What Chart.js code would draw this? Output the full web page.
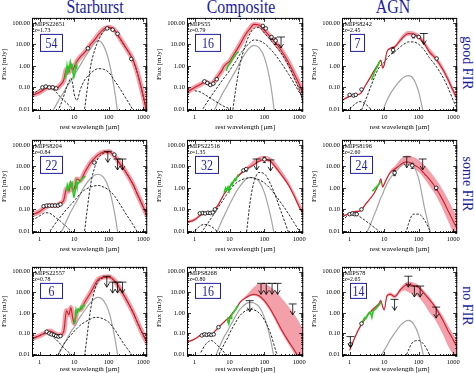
<!DOCTYPE html>
<html><head><meta charset="utf-8">
<script src="https://cdn.jsdelivr.net/npm/chart.js@4.4.1/dist/chart.umd.min.js"></script>
<style>
body{margin:0;width:474px;height:373px;background:#fff;position:relative;overflow:hidden;font-family:'Liberation Serif',serif}
canvas{position:absolute}
.t{position:absolute;color:#1c1c9c;font-size:18px;top:-3px;white-space:nowrap;transform:translateX(-50%) scaleX(0.88)}
.s{position:absolute;color:#1c1c9c;font-size:14px;white-space:nowrap;left:467px;transform:translate(-50%,-50%) rotate(90deg)}
</style></head><body>
<div class="t" style="left:95px">Starburst</div>
<div class="t" style="left:241px">Composite</div>
<div class="t" style="left:393px">AGN</div>
<div class="s" style="top:63px">good FIR</div>
<div class="s" style="top:184px">some FIR</div>
<div class="s" style="top:306px">no FIR</div>
<script>
const N = null;
// shared wavelength grid [µm]
const lam = [0.6,1,1.5,2,3,4,5,6,7,8,9,10,12,15,20,30,40,50,70,100,150,200,300,500,700,1000,1300];
const xTicks = [1,10,100,1000];
const yTicks = [0.01,0.1,1,10,100];
const names = ['MIPS22651','MIPS55','MIPS8242','MIPS8204','MIPS22516','MIPS8196','MIPS22557','MIPS8268','MIPS78'];
const zs = ['1.73','0.79','2.45','0.84','1.35','2.60','0.78','0.80','2.65'];
const counts = ['54','16','7','22','32','24','6','16','14'];

// Panel 1
const p1Total=[0.042,0.059,0.09,0.1,0.09,0.13,0.22,0.7,0.5,1.1,0.6,0.9,1.6,2.6,4.2,10,17,28,50,63,45,22,8,1.95,0.4,0.04,0.006];
const p1Stel=[0.045,0.08,0.11,0.1,0.06,0.035,0.025,0.019,0.015,0.012,0.01,0.008,0.005,N,N,N,N,N,N,N,N,N,N,N,N,N,N];
const p1Grey=[N,N,N,0.005,0.015,0.035,0.06,0.1,0.15,0.2,0.28,0.4,0.6,1.1,2.4,6.5,12,15,9,1.8,0.06,0.002,N,N,N,N,N];
const p1Dash=[N,N,N,N,0.005,0.015,0.04,0.1,0.18,0.27,0.15,0.05,0.025,0.08,0.22,0.45,0.65,0.75,0.7,0.5,0.2,0.1,0.035,0.009,0.003,N,N];
const p1Cold=[N,N,N,N,N,N,N,N,N,N,N,N,N,N,0.01,1.0,6,15,40,58,42,21,7.5,1.85,0.38,0.038,0.005];
const p1IrsLam=[5.3,5.8,6.2,6.6,7.0,7.7,8.2,8.6,9.2,9.8,10.5,11.3,11.8];
const p1Irs=[0.25,0.4,1.0,0.5,0.6,1.5,0.9,1.2,0.5,0.3,0.45,1.1,0.7];
const p1PtLam=[1.2,1.5,1.9,2.4,3.0,25,90,130,180,450];
const p1Pt=[0.1,0.11,0.1,0.1,0.09,6.5,55,48,31,2.1];
const p1PtErr=[0.01,0.01,0.01,0.01,0.01,1.2,8,7,5,0.4];
const p1UlLam=[]; const p1Ul=[];

// Panel 2
const p2Total=[0.06,0.1,0.14,0.18,0.14,0.24,0.4,0.6,0.96,1.2,1.4,1.6,2.6,4.6,10,32,59,85,80,45,22,13,5.5,1.4,0.47,0.14,0.047];
const p2Stel=[N,0.07,0.06,0.045,0.03,0.022,0.018,0.015,0.013,0.012,0.011,0.01,0.007,N,N,N,N,N,N,N,N,N,N,N,N,N,N];
const p2Grey=[N,N,N,N,0.005,0.012,0.025,0.045,0.07,0.1,0.14,0.19,0.32,0.6,1.5,4.5,7.5,9,7,2.5,0.15,0.005,N,N,N,N,N];
const p2Dash=[N,N,0.007,0.015,0.04,0.08,0.13,0.2,0.28,0.37,0.47,0.6,0.95,1.6,3.5,8,13,16,15,11,6,3.5,1.4,0.4,0.16,0.06,0.03];
const p2Cold=[N,N,N,N,N,N,N,N,N,N,N,N,0.006,0.08,1.2,12,35,55,62,34,16,9,4,1,0.3,0.08,0.02];
const p2IrsLam=[8,9,10,11,12,13,14,16,18];
const p2Irs=[0.6,1.0,1.2,1.6,2.0,2.6,2.8,3.9,4.6];
const p2PtLam=[1.9,2.3,2.8,3.4,4.3,90,110,160,210];
const p2Pt=[0.19,0.16,0.13,0.15,0.24,72,55,22,15];
const p2PtErr=[0.02,0.02,0.02,0.02,0.03,12,8,5,5];
const p2UlLam=[300]; const p2Ul=[22];

// Panel 3
const p3Total=[0.025,0.039,0.045,0.05,0.14,0.3,0.57,0.9,1.37,1.8,0.8,1.1,4.5,6.5,7.5,16,26,32,30,22,10,4.6,2.3,0.68,0.24,0.07,0.03];
const p3Hi=[0.028,0.043,0.05,0.055,0.155,0.33,0.63,1.0,1.5,2.0,0.9,1.25,5,7.3,9,22,36,42,40,30,14,7,3.3,1,0.35,0.1,0.04];
const p3Lo=[0.022,0.035,0.04,0.045,0.125,0.27,0.51,0.8,1.23,1.6,0.7,0.95,4,5.8,6.5,13,21,25,24,17,8,3.6,1.8,0.5,0.17,0.05,0.02];
const p3Stel=[N,0.01,0.018,0.022,0.016,0.01,0.006,N,N,N,N,N,N,N,N,N,N,N,N,N,N,N,N,N,N,N,N];
const p3Grey=[N,N,N,N,N,N,N,N,N,0.004,0.007,0.012,0.025,0.05,0.1,0.22,0.32,0.35,0.25,0.06,0.003,N,N,N,N,N,N];
const p3Dash=[N,N,N,0.006,0.03,0.1,0.25,0.5,0.8,1.1,1.2,1.5,2.2,3.3,4.5,8,11,13,13,10,5,2.5,1.1,0.3,0.1,0.025,0.01];
const p3Cold=null;
const p3IrsLam=[4.3,4.8,5.3,5.8,6.4,7.0,7.6];
const p3Irs=[0.22,0.35,0.55,0.7,0.95,1.3,1.7];
const p3PtLam=[1.0,1.3,1.5,2.2,18,70,100,330];
const p3Pt=[0.045,0.042,0.045,0.08,5.5,25,22,2.2];
const p3PtErr=[0.005,0.005,0.005,0.01,1.5,5,4,0.4];
const p3UlLam=[140]; const p3Ul=[32];

// Panel 4
const p4Total=[0.055,0.08,0.13,0.15,0.15,0.19,0.27,0.9,0.7,1.6,0.8,0.9,2.6,2.2,5.1,15,25,35,46,48,30,15,6.1,1.5,0.45,0.13,0.05];
const p4Stel=[0.03,0.05,0.07,0.065,0.04,0.028,0.02,0.016,0.012,0.01,0.008,0.007,N,N,N,N,N,N,N,N,N,N,N,N,N,N,N];
const p4Grey=[N,N,N,N,N,0.008,0.015,0.03,0.05,0.08,0.11,0.15,0.25,0.5,1.2,2.8,4.0,4.3,3.2,1.0,0.06,0.003,N,N,N,N,N];
const p4Dash=[N,N,N,0.01,0.025,0.045,0.07,0.1,0.13,0.17,0.2,0.25,0.35,0.55,0.8,1.1,1.25,1.3,1.1,0.8,0.4,0.2,0.07,0.02,0.008,N,N];
const p4Cold=[N,N,N,N,N,N,N,N,N,N,N,N,N,N,0.01,1.5,10,25,40,46,29,14.5,6,1.5,0.45,0.13,0.05];
const p4IrsLam=[6.0,6.3,6.8,7.3,7.8,8.3,8.7,9.3,9.8,10.3,11.0,11.4,12,13,14,15.5,17,19,21];
const p4Irs=[0.7,1.3,0.8,1.2,1.8,1.3,1.6,0.6,0.35,0.55,0.9,1.9,1.3,1.6,1.8,2.2,2.8,3.0,3.6];
const p4PtLam=[1.3,1.6,1.9,2.3,2.8,3.4,4.0,38,145];
const p4Pt=[0.14,0.15,0.15,0.15,0.15,0.15,0.17,15,35];
const p4PtErr=[0.015,0.015,0.015,0.015,0.015,0.015,0.017,2.5,5];
const p4UlLam=[94,180,250]; const p4Ul=[50,22,22];

// Panel 5
const p5Total=[0.025,0.033,0.055,0.065,0.07,0.11,0.19,0.33,0.53,0.7,0.9,1.1,1.7,2.6,4.3,7.3,9.7,12,17.5,21,17.5,10,4.3,1.3,0.45,0.13,0.06];
const p5Hi=[0.03,0.04,0.065,0.075,0.08,0.13,0.22,0.38,0.6,0.8,1.0,1.25,1.9,3,5,9,14,20,28,30,26,17,7,2,0.7,0.22,0.1];
const p5Lo=[0.022,0.029,0.048,0.057,0.062,0.095,0.16,0.29,0.46,0.6,0.78,0.95,1.5,2.3,3.8,6.4,8.5,10.5,15,17.5,14,8,3.6,1.1,0.38,0.11,0.05];
const p5Stel=[N,0.01,0.018,0.02,0.016,0.011,0.008,N,N,N,N,N,N,N,N,N,N,N,N,N,N,N,N,N,N,N,N];
const p5Grey=[N,N,N,N,N,0.006,0.015,0.03,0.05,0.08,0.12,0.17,0.3,0.6,1.2,2.6,3.1,2.9,2,0.6,0.05,0.005,N,N,N,N,N];
const p5Dash=[N,N,0.008,0.015,0.04,0.08,0.14,0.22,0.32,0.45,0.6,0.75,1.1,1.6,2.2,2.8,3,2.9,2.4,1.7,0.9,0.5,0.2,0.06,0.025,0.01,N];
const p5Cold=[N,N,N,N,N,N,N,N,N,N,N,N,N,N,N,0.006,0.3,1.8,5.2,4.5,1.5,0.5,0.08,0.008,N,N,N];
const p5IrsLam=[7,7.7,8.3,9,9.7,10.5,11.3,12,13,14,15,16,17,18];
const p5Irs=[0.6,1.0,0.8,1.1,0.7,1.2,1.6,1.4,2.0,2.5,2.2,3.0,3.5,4.2];
const p5PtLam=[1.4,1.7,2.0,2.4,2.8,3.3,3.8,25,30,100];
const p5Pt=[0.065,0.068,0.065,0.07,0.068,0.072,0.1,6.5,7.5,21];
const p5PtErr=[0.007,0.007,0.007,0.007,0.007,0.007,0.01,1.2,1.5,6];
const p5UlLam=[60,150]; const p5Ul=[22,20];

// Panel 6
const p6Total=[0.047,0.065,0.08,0.085,0.19,0.33,0.53,0.9,1.5,2.6,1.1,1.5,2.8,5.2,7.3,12,16,16,12,8.7,4.3,2.6,1.1,0.27,0.09,0.028,0.012];
const p6Hi=[0.052,0.072,0.088,0.094,0.21,0.36,0.58,1.0,1.65,2.85,1.25,1.7,3.3,6.5,10,22,30,32,27,20,11,6.5,2.8,0.8,0.3,0.1,0.045];
const p6Lo=[0.042,0.058,0.072,0.077,0.17,0.3,0.48,0.8,1.35,2.35,1.0,1.3,2.4,4.5,6.2,9.5,12,11.5,8.5,5.5,2.5,1.3,0.5,0.1,0.03,0.008,0.003];
const p6Stel=[0.03,0.055,0.056,0.045,0.028,0.02,0.015,0.012,0.01,0.008,N,N,N,N,N,N,N,N,N,N,N,N,N,N,N,N,N];
const p6Grey=[N,N,N,N,0.007,0.02,0.05,0.1,0.2,0.35,0.5,0.8,1.5,2.8,5,10,15,16,11,2.6,0.1,0.015,0.001,N,N,N,N];
const p6Dash=null;
const p6Cold=[N,N,N,N,N,N,N,N,N,N,N,N,N,N,N,N,0.005,0.02,0.06,0.06,0.03,0.012,0.002,N,N,N,N];
const p6IrsLam=[4.5,5,5.5,6,6.5,7,7.5,8];
const p6Irs=[0.7,0.8,1.0,1.1,1.3,1.4,1.7,2.0];
const p6PtLam=[1.0,1.2,1.4,1.6,2.2,20,65,320];
const p6Pt=[0.06,0.065,0.06,0.06,0.1,5,11,1.0];
const p6PtErr=[0.006,0.006,0.006,0.006,0.01,1.3,3,0.2];
const p6UlLam=[45,130]; const p6Ul=[28,22];

// Panel 7
const p7Total=[0.058,0.077,0.11,0.13,0.09,0.085,0.13,1.3,0.8,1.8,0.6,0.3,1.2,1.4,3.2,9.7,24,42,54,56,35,17,5.6,1.1,0.3,0.083,0.035];
const p7Stel=[0.05,0.08,0.1,0.09,0.05,0.03,0.02,0.015,0.012,0.01,0.008,N,N,N,N,N,N,N,N,N,N,N,N,N,N,N,N];
const p7Grey=[N,N,N,N,0.006,0.015,0.03,0.05,0.08,0.12,0.16,0.2,0.35,0.65,1.3,3.2,5,5.6,4,1.2,0.06,0.003,N,N,N,N,N];
const p7Dash=[N,N,N,N,0.006,0.015,0.03,0.045,0.065,0.085,0.1,0.13,0.17,0.25,0.35,0.5,0.6,0.6,0.5,0.35,0.15,0.07,0.025,0.008,N,N,N];
const p7Cold=[N,N,N,N,N,N,N,N,N,N,N,N,N,N,0.008,1.5,15,35,50,54,34,17,5.5,1.1,0.3,0.083,0.035];
const p7IrsLam=[9.5,10,10.5,11,11.3,11.8,12.5,13,14,15,16,17,18,19,20];
const p7Irs=[0.3,0.35,0.5,0.8,1.3,0.9,1.1,1.5,1.3,1.6,2.0,1.7,2.2,2.5,2.8];
const p7PtLam=[1.6,1.9,2.2,2.6,3.0,3.5,4.0];
const p7Pt=[0.12,0.1,0.09,0.085,0.075,0.07,0.075];
const p7PtErr=[0.012,0.01,0.009,0.009,0.008,0.007,0.008];
const p7UlLam=[88,130,180,250]; const p7Ul=[60,31,31,31];

// Panel 8
const p8Total=[0.038,0.053,0.083,0.096,0.09,0.14,0.21,0.28,0.36,0.45,0.53,0.62,0.95,1.5,3.2,5.6,7.2,8,6.7,3.9,1.5,0.62,0.17,0.04,0.017,0.006,0.003];
const p8Hi=[0.042,0.058,0.091,0.105,0.099,0.155,0.23,0.31,0.4,0.5,0.58,0.68,1.05,1.65,3.6,7,12,18,26,25,18,12,5.5,2,0.9,0.35,0.15];
const p8Lo=[0.034,0.048,0.075,0.087,0.081,0.126,0.19,0.25,0.32,0.4,0.48,0.56,0.85,1.35,2.9,5,6.3,6.8,5.5,3,1.1,0.45,0.12,0.028,0.011,0.004,0.002];
const p8Stel=[N,N,0.012,0.028,0.045,0.032,0.022,0.016,0.012,0.009,0.007,N,N,N,N,N,N,N,N,N,N,N,N,N,N,N,N];
const p8Grey=[N,N,N,N,N,0.008,0.02,0.04,0.07,0.1,0.14,0.2,0.35,0.7,1.5,2.8,3.2,3,2,0.6,0.05,0.004,N,N,N,N,N];
const p8Dash=[N,N,N,N,N,N,0.01,0.018,0.03,0.045,0.065,0.1,0.18,0.35,0.75,1.3,1.5,1.4,1.0,0.45,0.1,0.02,0.002,N,N,N,N];
const p8Cold=null;
const p8IrsLam=[8.5,9,9.5,10,10.5,11,11.5,12,13,14,15,16,17,18];
const p8Irs=[0.35,0.4,0.3,0.5,0.6,0.55,0.8,0.9,1.0,1.3,1.4,1.8,2.0,2.4];
const p8PtLam=[1.6,1.9,2.2,2.6,3.0,3.5,4.8];
const p8Pt=[0.08,0.09,0.085,0.09,0.085,0.09,0.2];
const p8PtErr=[0.008,0.009,0.009,0.009,0.009,0.009,0.02];
const p8UlLam=[38,80,113,166,240,650]; const p8Ul=[3.9,27,27,27,27,2.7];

// Panel 9
const p9Total=[N,0.015,0.08,0.21,0.6,1.1,1.6,2.1,2.7,3.9,2.0,1.4,6.7,8,6.2,13.9,21,24,21,17,8,4.6,1.9,0.44,0.14,0.048,0.02];
const p9Hi=[N,0.018,0.095,0.25,0.7,1.3,1.9,2.5,3.2,4.6,2.4,1.7,8,9.6,7.5,17,28,32,30,22,11,6.2,2.5,0.7,0.25,0.09,0.04];
const p9Lo=[N,0.013,0.068,0.18,0.52,0.95,1.4,1.8,2.3,3.3,1.7,1.2,5.6,6.5,5,10,12,10,8,5.6,2.4,1.1,0.45,0.09,0.025,0.009,0.004];
const p9Stel=null;
const p9Grey=[N,N,N,N,N,N,N,N,0.005,0.008,0.011,0.015,0.025,0.05,0.1,0.25,0.38,0.43,0.3,0.08,0.004,N,N,N,N,N,N];
const p9Dash=null;
const p9Cold=[N,N,N,N,N,N,N,N,N,N,N,N,N,N,N,N,0.006,0.015,0.04,0.045,0.025,0.01,0.002,N,N,N,N];
const p9IrsLam=[2.2,2.5,2.8,3.0,3.3,3.6,4.0,4.4,4.8,5.3,5.8,6.4,7.0,7.6,8.2];
const p9Irs=[0.3,0.45,0.6,0.55,0.8,1.0,1.1,0.6,1.2,1.4,1.6,2.0,2.3,2.8,3.3];
const p9PtLam=[1.05,2.2];
const p9Pt=[0.03,0.3];
const p9PtErr=[0.004,0.04];
const p9UlLam=[1.05,20,50,75,110,320]; const p9Ul=[0.07,4.5,60,20,20,1.9];

const panels=[
 {total:p1Total,hi:null,lo:null,stel:p1Stel,grey:p1Grey,dash:p1Dash,cold:p1Cold,irsLam:p1IrsLam,irs:p1Irs,ptLam:p1PtLam,pt:p1Pt,ptErr:p1PtErr,ulLam:p1UlLam,ul:p1Ul},
 {total:p2Total,hi:null,lo:null,stel:p2Stel,grey:p2Grey,dash:p2Dash,cold:p2Cold,irsLam:p2IrsLam,irs:p2Irs,ptLam:p2PtLam,pt:p2Pt,ptErr:p2PtErr,ulLam:p2UlLam,ul:p2Ul},
 {total:p3Total,hi:p3Hi,lo:p3Lo,stel:p3Stel,grey:p3Grey,dash:p3Dash,cold:p3Cold,irsLam:p3IrsLam,irs:p3Irs,ptLam:p3PtLam,pt:p3Pt,ptErr:p3PtErr,ulLam:p3UlLam,ul:p3Ul},
 {total:p4Total,hi:null,lo:null,stel:p4Stel,grey:p4Grey,dash:p4Dash,cold:p4Cold,irsLam:p4IrsLam,irs:p4Irs,ptLam:p4PtLam,pt:p4Pt,ptErr:p4PtErr,ulLam:p4UlLam,ul:p4Ul},
 {total:p5Total,hi:p5Hi,lo:p5Lo,stel:p5Stel,grey:p5Grey,dash:p5Dash,cold:p5Cold,irsLam:p5IrsLam,irs:p5Irs,ptLam:p5PtLam,pt:p5Pt,ptErr:p5PtErr,ulLam:p5UlLam,ul:p5Ul},
 {total:p6Total,hi:p6Hi,lo:p6Lo,stel:p6Stel,grey:p6Grey,dash:p6Dash,cold:p6Cold,irsLam:p6IrsLam,irs:p6Irs,ptLam:p6PtLam,pt:p6Pt,ptErr:p6PtErr,ulLam:p6UlLam,ul:p6Ul},
 {total:p7Total,hi:null,lo:null,stel:p7Stel,grey:p7Grey,dash:p7Dash,cold:p7Cold,irsLam:p7IrsLam,irs:p7Irs,ptLam:p7PtLam,pt:p7Pt,ptErr:p7PtErr,ulLam:p7UlLam,ul:p7Ul},
 {total:p8Total,hi:p8Hi,lo:p8Lo,stel:p8Stel,grey:p8Grey,dash:p8Dash,cold:p8Cold,irsLam:p8IrsLam,irs:p8Irs,ptLam:p8PtLam,pt:p8Pt,ptErr:p8PtErr,ulLam:p8UlLam,ul:p8Ul},
 {total:p9Total,hi:p9Hi,lo:p9Lo,stel:p9Stel,grey:p9Grey,dash:p9Dash,cold:p9Cold,irsLam:p9IrsLam,irs:p9Irs,ptLam:p9PtLam,pt:p9Pt,ptErr:p9PtErr,ulLam:p9UlLam,ul:p9Ul}
];

// layout (not data)
const cols=[{left:0,w:152,bw:116},{left:155,w:153,bw:117},{left:310,w:152,bw:116}];
const rows=[{top:12,bh:94,h:119,nb:17},{top:134,bh:94,h:119,nb:17},{top:261,bh:90,h:112,nb:15}];
const boxW=[22,25,14,22,23,22,22,25,16];
const F="'Liberation Serif', 'Times New Roman', serif";
const RED='#c81e28', PINK='#f4a0aa', GREY='#a4a4a4', GREEN='#22cc22';

function series(arr){ return lam.map((l,i)=>({x:l,y:arr[i]==null?null:arr[i]})); }
function lineDs(arr,color,width,dash){
  return {data:series(arr),showLine:true,borderColor:color,borderWidth:width,borderDash:dash||[],pointRadius:0,
          cubicInterpolationMode:'monotone',spanGaps:false,fill:false,clip:0};
}
function sTxt(ctx,s,x,y,font,color,sx,align){
  ctx.save(); ctx.translate(x,y); ctx.scale(sx,1); ctx.font=font; ctx.fillStyle=color;
  ctx.textAlign=align||'left'; ctx.fillText(s,0,0); ctx.restore();
}
function makePlugin(p,k,row){
  return {
    id:'sed'+k,
    afterDatasetsDraw(chart){
      const ctx=chart.ctx, xs=chart.scales.x, ys=chart.scales.y, a=chart.chartArea;
      ctx.save();
      ctx.beginPath(); ctx.rect(a.left,a.top,a.right-a.left,a.bottom-a.top); ctx.clip();
      ctx.strokeStyle='#000'; ctx.lineWidth=0.8; ctx.setLineDash([]);
      p.ptLam.forEach((l,i)=>{
        const x=xs.getPixelForValue(l), yc=ys.getPixelForValue(p.pt[i]);
        const yt=ys.getPixelForValue(p.pt[i]+p.ptErr[i]);
        const yb=ys.getPixelForValue(Math.max(p.pt[i]-p.ptErr[i],1e-4));
        ctx.beginPath();
        if(yc-yt>2){ctx.moveTo(x,yc-2);ctx.lineTo(x,yt);ctx.moveTo(x-1.5,yt);ctx.lineTo(x+1.5,yt);}
        if(yb-yc>2){ctx.moveTo(x,yc+2);ctx.lineTo(x,yb);ctx.moveTo(x-1.5,yb);ctx.lineTo(x+1.5,yb);}
        ctx.stroke();
      });
      p.ulLam.forEach((l,i)=>{
        const x=xs.getPixelForValue(l), y0=ys.getPixelForValue(p.ul[i]);
        ctx.beginPath();
        ctx.moveTo(x-4,y0);ctx.lineTo(x+4,y0);
        ctx.moveTo(x,y0);ctx.lineTo(x,y0+11);
        ctx.moveTo(x-2.5,y0+7);ctx.lineTo(x,y0+11);ctx.lineTo(x+2.5,y0+7);
        ctx.stroke();
      });
      ctx.restore();
    },
    afterDraw(chart){
      const ctx=chart.ctx, xs=chart.scales.x, ys=chart.scales.y, a=chart.chartArea;
      ctx.save();
      ctx.strokeStyle='#000'; ctx.lineWidth=1; ctx.setLineDash([]);
      ctx.strokeRect(a.left+0.5,a.top+0.5,a.right-a.left-1,a.bottom-a.top-1);
      ctx.lineWidth=0.8;
      ctx.beginPath();
      for(let d=-1;d<=3;d++) for(let m=1;m<=9;m++){
        const v=m*Math.pow(10,d); if(v<xs.min||v>xs.max) continue;
        const x=Math.round(xs.getPixelForValue(v))+0.5, L=m===1?4:2;
        ctx.moveTo(x,a.bottom);ctx.lineTo(x,a.bottom-L);ctx.moveTo(x,a.top);ctx.lineTo(x,a.top+L);
      }
      for(let d=-3;d<=2;d++) for(let m=1;m<=9;m++){
        const v=m*Math.pow(10,d); if(v<ys.min||v>ys.max) continue;
        const y=Math.round(ys.getPixelForValue(v))+0.5, L=m===1?4:2;
        ctx.moveTo(a.left,y);ctx.lineTo(a.left+L,y);ctx.moveTo(a.right,y);ctx.lineTo(a.right-L,y);
      }
      ctx.stroke();
      // labels
      ctx.textBaseline='alphabetic';
      sTxt(ctx,names[k],a.left+2.5,a.top+8.5,"7px "+F,'#000',0.9);
      ctx.save(); ctx.translate(a.left+2.5,a.top+14.5); ctx.scale(0.9,1);
      ctx.font="italic 6.5px "+F; ctx.fillStyle='#000'; ctx.fillText('z',0,0);
      const zw=ctx.measureText('z').width; ctx.font="6.5px "+F; ctx.fillText('='+zs[k],zw,0); ctx.restore();
      const bx=a.left+8, by=a.top+16, bw=boxW[k], bh=row.nb;
      ctx.strokeStyle='#2020a0'; ctx.lineWidth=1;
      ctx.strokeRect(bx+0.5,by+0.5,bw,bh);
      ctx.textBaseline='middle';
      sTxt(ctx,counts[k],bx+bw/2+0.5,by+bh/2+1.5,"14px "+F,'#2020a0',0.85,'center');
      ctx.restore();
    }
  };
}

panels.forEach((p,k)=>{
  const col=cols[k%3], row=rows[Math.floor(k/3)];
  const cv=document.createElement('canvas');
  cv.width=col.w; cv.height=row.h;
  cv.style.left=col.left+'px'; cv.style.top=row.top+'px';
  cv.style.width=col.w+'px'; cv.style.height=row.h+'px';
  document.body.appendChild(cv);
  const ds=[];
  ds.push({data:p.ptLam.map((l,i)=>({x:l,y:p.pt[i]})),showLine:false,pointRadius:1.8,pointStyle:'circle',
           pointBackgroundColor:'#fff',pointBorderColor:'#000',pointBorderWidth:0.8});
  ds.push({data:p.irsLam.map((l,i)=>({x:l,y:p.irs[i]})),showLine:true,borderColor:GREEN,borderWidth:1.6,
           pointRadius:0,tension:0,fill:false,clip:0});
  ds.push(lineDs(p.total,RED,1.1));
  if(p.stel) ds.push(lineDs(p.stel,'#111',0.9,[2.5,1.5]));
  if(p.dash) ds.push(lineDs(p.dash,'#111',0.9,[2.5,1.5]));
  if(p.cold) ds.push(lineDs(p.cold,'#111',0.9,[2.5,1.5]));
  if(p.grey) ds.push(lineDs(p.grey,GREY,1.2));
  if(p.hi){
    const h=lineDs(p.hi,'rgba(0,0,0,0)',1); h.fill='+1'; h.backgroundColor=PINK; ds.push(h);
    ds.push(lineDs(p.lo,'rgba(0,0,0,0)',1));
  } else {
    ds.push(lineDs(p.total,PINK,5));
  }
  new Chart(cv,{
    type:'scatter',
    data:{datasets:ds},
    options:{
      responsive:false,animation:false,devicePixelRatio:1,
      layout:{padding:{top:5,right:col.w-32-col.bw,left:0,bottom:0}},
      plugins:{legend:{display:false},tooltip:{enabled:false}},
      scales:{
        x:{type:'logarithmic',min:0.6,max:1300,
           afterFit:s=>{s.height=row.h-5-row.bh;},
           afterBuildTicks:s=>{s.ticks=xTicks.map(v=>({value:v}));},
           grid:{display:false,drawTicks:false},border:{display:false},
           ticks:{autoSkip:false,maxRotation:0,minRotation:0,padding:2,color:'#000',font:{family:F,size:6.5},callback:v=>String(v)},
           title:{display:true,text:'rest wavelength [μm]',color:'#000',font:{family:F,size:7},padding:0}},
        y:{type:'logarithmic',min:0.008,max:170,
           afterFit:s=>{s.width=32;},
           afterBuildTicks:s=>{s.ticks=yTicks.map(v=>({value:v}));},
           grid:{display:false,drawTicks:false},border:{display:false},
           ticks:{autoSkip:false,padding:2,color:'#000',font:{family:F,size:6.5},callback:v=>Number(v).toFixed(2)},
           title:{display:true,text:'Flux [mJy]',color:'#000',font:{family:F,size:7},padding:0}}
      }
    },
    plugins:[makePlugin(p,k,row)]
  });
});
</script>
</body></html>
